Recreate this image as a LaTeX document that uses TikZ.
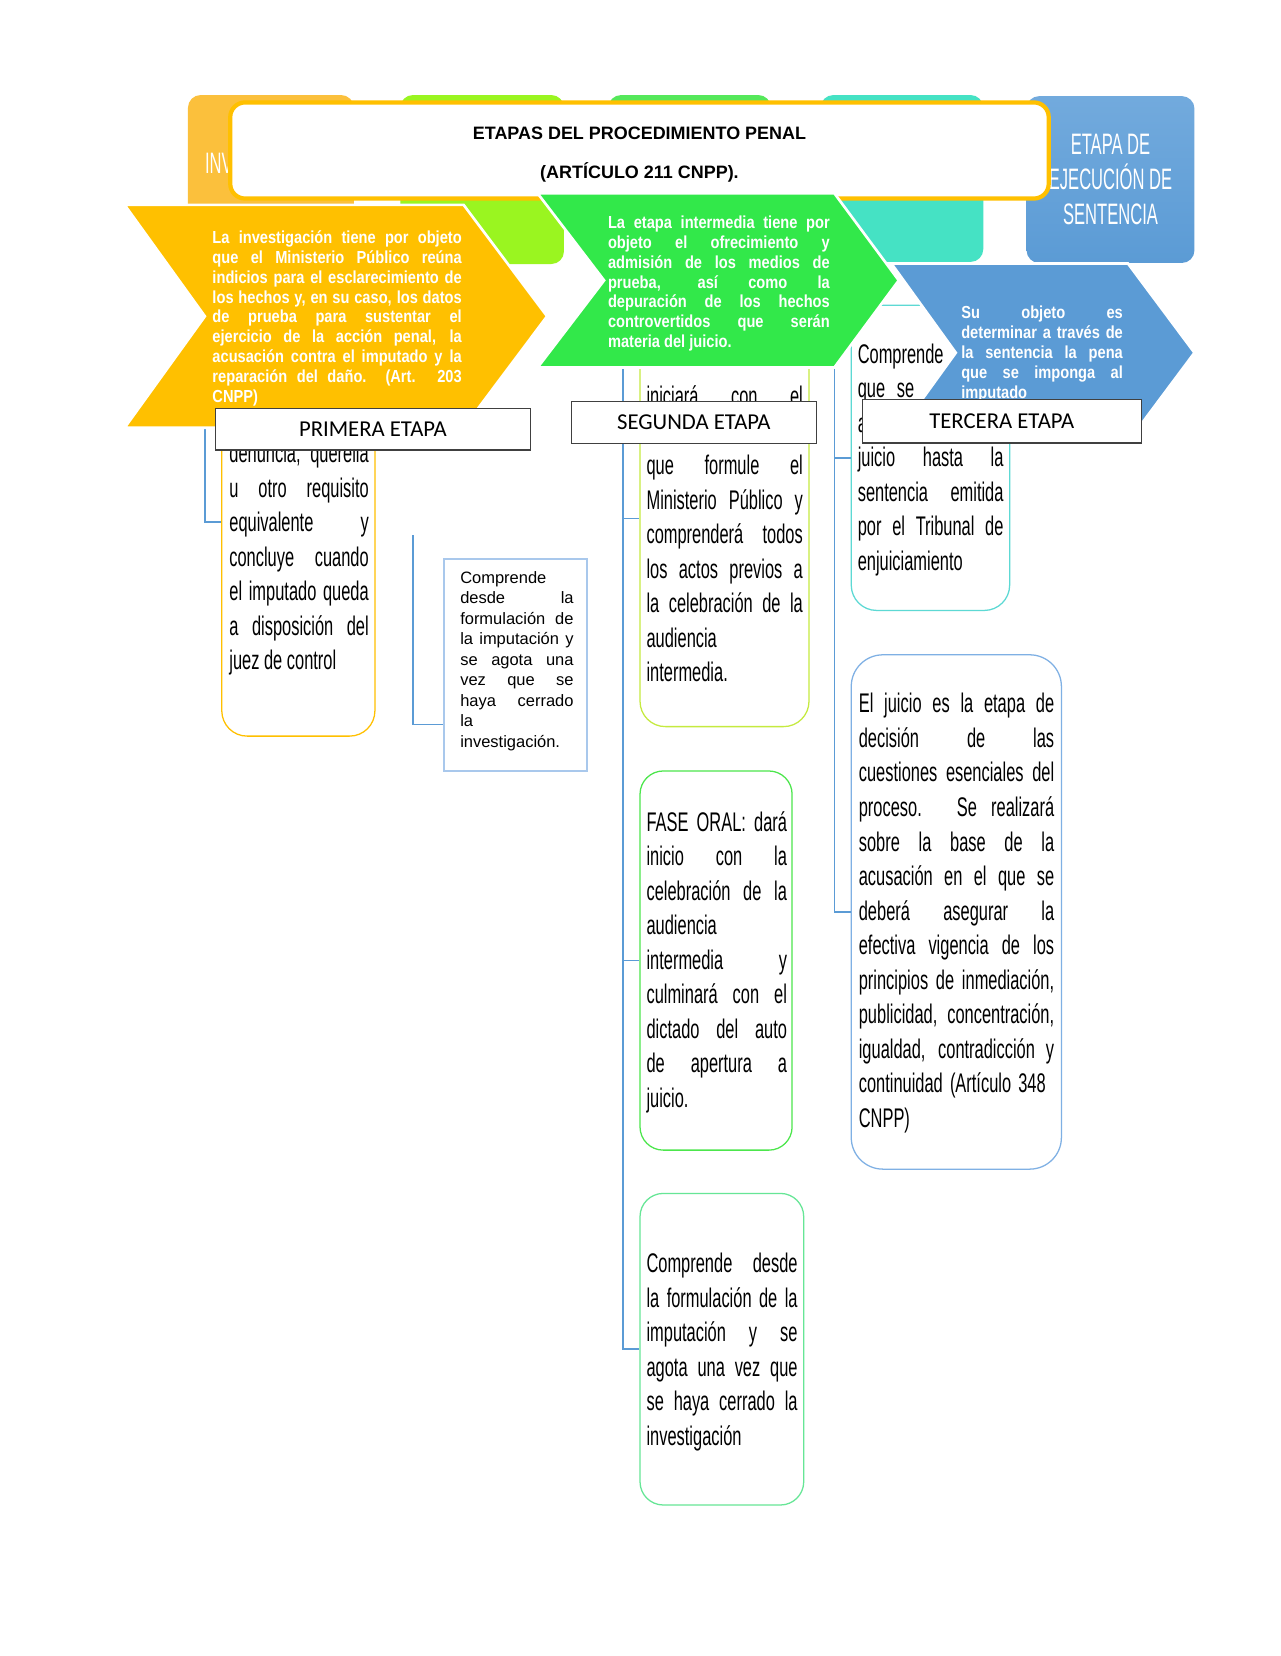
\documentclass[tikz,border=0pt]{standalone}
\usepackage{fontspec}
\usepackage{tikz}
\setmainfont{Liberation Sans}
\newfontfamily\narrowfont[FakeStretch=0.61]{Liberation Sans}
\newfontfamily\tabfont[FakeStretch=0.56]{Liberation Sans}
\newfontfamily\arrowfont[FakeStretch=0.84]{Liberation Sans Bold}
\newfontfamily\labelfont{Carlito}

\definecolor{naranja}{HTML}{FFC000}
\definecolor{naranjatab}{HTML}{FBC03C}
\definecolor{limon}{HTML}{9AF520}
\definecolor{verde}{HTML}{32E84A}
\definecolor{verdetab}{HTML}{55E85A}
\definecolor{turquesa}{HTML}{45E2C4}
\definecolor{azul}{HTML}{5B9BD5}
\definecolor{azulclaro}{HTML}{72AADD}
\definecolor{cajaazul}{HTML}{A9C8EC}
\definecolor{limonbox}{HTML}{C5EA3F}
\definecolor{verdebox}{HTML}{4CE64C}
\definecolor{mentabox}{HTML}{66E696}
\definecolor{turqbox}{HTML}{5DD9D4}
\definecolor{azulbox}{HTML}{7FB0E4}

\begin{document}
\begin{tikzpicture}[x=1pt, y=-1pt,
    tab/.style={rounded corners=12pt, inner sep=0pt, minimum width=157pt, minimum height=160pt},
    caja/.style={rounded corners=24pt, line width=1.2pt, inner sep=0pt},
    cuerpo/.style={anchor=north west, inner sep=0pt, align=justify, execute at begin node=\strut,
        font=\narrowfont\fontsize{25.5}{32.7}\selectfont},
    flecha/.style={draw=white, line width=2.5pt},
    ftext/.style={anchor=north west, inner sep=0pt, align=justify, text=white, execute at begin node=\strut,
        font=\arrowfont\fontsize{16.5}{18.9}\selectfont},
    etiqueta/.style={draw=black!75, line width=1.2pt, fill=white, inner sep=0pt,
        font=\labelfont\fontsize{21.5}{24}\selectfont},
    conn/.style={draw=azul, line width=1.5pt}]
    \path [fill=white] (0,0) rectangle (1212.1,1568);
    \useasboundingbox (0,0) rectangle (1212.1,1568);

    \node [tab, fill=naranjatab] at (256.5,170) (ti) {};
    \node [tab, fill=limon, minimum width=155pt] at (456.5,170) (tc) {};
    \node [tab, fill=verdetab, minimum width=154pt] at (653,170) (tm) {};
    \node [tab, fill=turquesa, minimum width=154pt, minimum height=158pt] at (854,169) (tj) {};
    \node [tab, top color=azulclaro, bottom color=azul, minimum width=159pt, minimum height=158pt,
        text=white, align=center, font=\tabfont\fontsize{28}{33.2}\selectfont] at (1051.5,170) (te)
        {ETAPA DE\\EJECUCIÓN DE\\SENTENCIA};
    \node [anchor=base west, inner sep=0pt, text=white, font=\tabfont\fontsize{28}{33.2}\selectfont] at (194,164) (tv) {INV};

    \node [draw=naranja, line width=4pt, fill=white, rounded corners=14pt, minimum width=775pt, minimum height=91pt,
        align=center, font=\bfseries\fontsize{17}{37}\selectfont] at (605.5,142.5) (titulo)
        {\rule{0pt}{20pt}ETAPAS DEL PROCEDIMIENTO PENAL\\(ARTÍCULO 211 CNPP).};

    \node [caja, draw=naranja, minimum width=145pt, minimum height=317pt] at (282.5,538.5) (b1) {};
    \node [draw=cajaazul, line width=2pt, inner sep=0pt, minimum width=136pt, minimum height=201pt] at (488,629.5) (b2) {};
    \node [caja, draw=limonbox, minimum width=160pt, minimum height=368pt] at (686,504) (s1) {};
    \node [caja, draw=verdebox, rounded corners=22pt, minimum width=144pt, minimum height=359pt] at (678,909.5) (s2) {};
    \node [caja, draw=mentabox, rounded corners=22pt, minimum width=155pt, minimum height=295pt] at (683.5,1277.5) (s3) {};
    \node [caja, draw=turqbox, minimum width=150pt, minimum height=289pt] at (881,433.5) (t1) {};
    \node [caja, draw=azulbox, rounded corners=30pt, minimum width=199pt, minimum height=487pt] at (905.5,863.5) (t2) {};

    \node [cuerpo, text width=132pt] at (217,415) (x1) {denuncia, querella\linebreak u otro requisito\linebreak
        equivalente y\linebreak concluye cuando\linebreak el imputado queda\linebreak a disposición del\linebreak juez de control};
    \node [anchor=north west, inner sep=0pt, align=justify, text width=107.3pt, execute at begin node=\strut,
        font=\fontsize{15.6}{19.4}\selectfont] at (435.6,538.4) (x2) {Comprende\hfill\linebreak desde la\linebreak
        formulación de\linebreak la imputación y\linebreak se agota una\linebreak vez que se\linebreak haya cerrado\linebreak
        la\hfill\linebreak investigación.};
    \node [cuerpo, text width=148pt] at (612,360.9) (y1) {iniciará con el\linebreak\mbox{}\hfill\linebreak que formule el\linebreak
        Ministerio Público y\linebreak comprenderá todos\linebreak los actos previos a\linebreak la celebración de la\linebreak
        audiencia\hfill\linebreak intermedia.};
    \node [cuerpo, text width=133pt] at (612,763.9) (y2) {FASE ORAL: dará\linebreak inicio con la\linebreak celebración de la\linebreak
        audiencia\hfill\linebreak intermedia y\linebreak culminará con el\linebreak dictado del auto\linebreak de apertura a\linebreak juicio.};
    \node [cuerpo, text width=143pt] at (612,1181.9) (y3) {Comprende desde\linebreak la formulación de la\linebreak imputación y se\linebreak
        agota una vez que\linebreak se haya cerrado la\linebreak investigación};
    \node [cuerpo, text width=138pt] at (812,320.9) (z1) {Comprende\hfill\linebreak que\hspace{11pt}se\hfill\linebreak a\hfill\linebreak
        juicio hasta la\linebreak sentencia emitida\linebreak por el Tribunal de\linebreak enjuiciamiento};
    \node [cuerpo, text width=185pt] at (813,651.9) (z2) {El juicio es la etapa de\linebreak decisión de las\linebreak
        cuestiones esenciales del\linebreak proceso. Se realizará\linebreak sobre la base de la\linebreak acusación en el que se\linebreak
        deberá asegurar la\linebreak efectiva vigencia de los\linebreak principios de inmediación,\linebreak publicidad, concentración,\linebreak
        igualdad, contradicción y\linebreak continuidad (Artículo 348\hspace*{8pt}\linebreak CNPP)};

    \coordinate (c1) at (194,299.5);
    \coordinate (c2) at (391,507);
    \coordinate (c3) at (590,300);
    \coordinate (c4) at (790,300);
    \path [conn] (c1) |- ([yshift=44.5pt]b1.west);
    \path [conn] (c2) |- ([yshift=-56.5pt]b2.west);
    \path [conn] (c3) |- ([yshift=13pt]s1.west);
    \path [conn] (c3) |- (s2.west);
    \path [conn] (c3) |- (s3.west);
    \path [conn] (c4) |- (t1.west);
    \path [conn] (c4) |- (t2.west);

    \path [flecha, fill=naranja] (118,194) -- (439,194) -- (518,299.5) -- (439,405) -- (118,405) -- (194,299.5) -- cycle;
    \path [flecha, fill=verde] (509,183) -- (790,183) -- (851,265.5) -- (790,348) -- (509,348) -- (572,265.5) -- cycle;
    \path [flecha, fill=azul] (844,249.5) -- (1068,249.5) -- (1131,334) -- (1068,418.5) -- (844,418.5) -- (905,334) -- cycle;

    \node [ftext, text width=236pt] at (201,216.8) (p) {La investigación tiene por objeto\linebreak que el Ministerio Público reúna\linebreak
        indicios para el esclarecimiento de\linebreak los hechos y, en su caso, los datos\linebreak de prueba para sustentar el\linebreak
        ejercicio de la acción penal, la\linebreak acusación contra el imputado y la\linebreak reparación del daño.\ \ (Art. 203\linebreak CNPP)};
    \node [ftext, text width=210pt] at (575.5,202.6) (s) {La etapa intermedia tiene por\linebreak objeto el ofrecimiento y\linebreak
        admisión de los medios de\linebreak prueba, así como la\linebreak depuración de los hechos\linebreak controvertidos que serán\linebreak
        materia del juicio.};
    \node [ftext, text width=153pt] at (910,288.5) (r) {Su objeto es\linebreak determinar a través de\linebreak la sentencia la pena\linebreak
        que se imponga al\linebreak imputado};

    \node [etiqueta, minimum width=298pt, minimum height=39pt] at (353,406.5) (l1) {PRIMERA ETAPA};
    \node [etiqueta, minimum width=232pt, minimum height=40pt] at (657,400) (l2) {SEGUNDA ETAPA};
    \node [etiqueta, minimum width=264pt, minimum height=41pt] at (948.5,399) (l3) {TERCERA ETAPA};
\end{tikzpicture}
\end{document}
